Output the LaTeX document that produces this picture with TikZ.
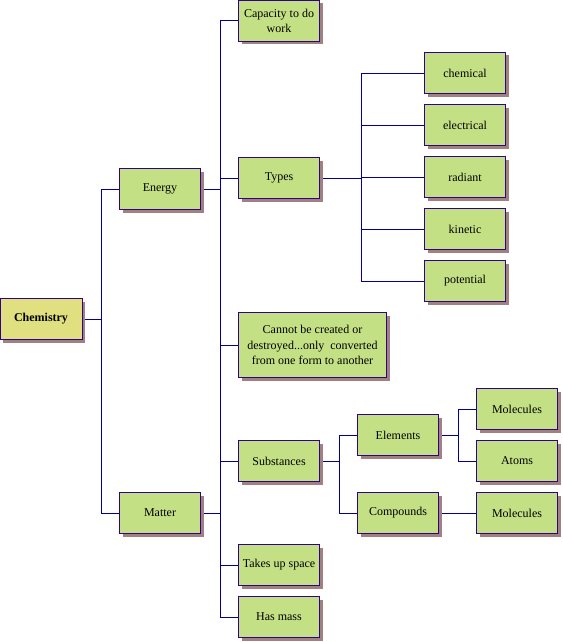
\documentclass[tikz,border=0pt]{standalone}
\usepackage{fontspec}
\setmainfont{Liberation Serif}
\usetikzlibrary{positioning,shadows,backgrounds}
\definecolor{boxgreen}{HTML}{C4E084}
\definecolor{boxyellow}{HTML}{E0E080}
\definecolor{boxedge}{HTML}{330088}
\definecolor{shade}{HTML}{A08080}
\definecolor{wire}{HTML}{000099}
\tikzset{
topic/.style={draw=boxedge, line width=1pt, fill=boxgreen, minimum width=81pt, minimum height=41pt, inner sep=1pt, align=center, font=\fontsize{12}{15.5}\selectfont, general shadow={fill=shade, shadow xshift=3pt, shadow yshift=-3pt}}, % every box
root/.style={topic, fill=boxyellow, minimum width=82pt, font=\fontsize{12}{15.5}\selectfont\bfseries},
link/.style={draw=wire, line width=1pt},
}
\begin{document}
\begin{tikzpicture}[x=1pt, y=-1pt]
        \useasboundingbox (0,0) rectangle (562,642);
        \node[root] at (41,319) (chem) {Chemistry};
        \node[topic] at (160,189) (en) {Energy};
        \node[topic] at (160,513) (ma) {Matter};
        \node[topic] at (279,21) (cap) {Capacity to do\\work};
        \node[topic] at (279,178) (ty) {Types};
        \node[topic, minimum width=148pt, minimum height=65pt] at (312.5,345) (can) {Cannot be created or\\destroyed...only~~converted\\from one form to another};
        \node[topic] at (279,461) (sub) {Substances};
        \node[topic] at (279,565) (tak) {Takes up space};
        \node[topic] at (279,617) (has) {Has mass};
        \node[topic] at (465,73) (t1) {chemical};
        \node[topic] at (465,125) (t2) {electrical};
        \node[topic] at (465,177) (t3) {radiant};
        \node[topic] at (465,229) (t4) {kinetic};
        \node[topic] at (465,281) (t5) {potential};
        \node[topic] at (398,435) (el) {Elements};
        \node[topic] at (398,513) (co) {Compounds};
        \node[topic] at (517,409) (m1) {Molecules};
        \node[topic] at (517,461) (at) {Atoms};
        \node[topic] at (517,513) (m2) {Molecules};
        % fork points
        \coordinate (f1) at (101,0);
        \coordinate (f2) at (220,0);
        \coordinate (f3) at (361,0);
        \coordinate (f4) at (339,0);
        \coordinate (f5) at (458,0);
        \begin{scope}[on background layer]
        \draw[link]
        (chem.east) -- (chem.east -| f1)
        (f1 |- en) -- (f1 |- ma)
        (f1 |- en) -- (en.west)
        (f1 |- ma) -- (ma.west)
        (en.east) -- (en.east -| f2)
        (ma.east) -- (ma.east -| f2)
        (f2 |- cap) -- (f2 |- has)
        (f2 |- cap) -- (cap.west)
        (f2 |- ty) -- (ty.west)
        (f2 |- can) -- (can.west)
        (f2 |- sub) -- (sub.west)
        (f2 |- tak) -- (tak.west)
        (f2 |- has) -- (has.west)
        (ty.east) -- (ty.east -| f3)
        (f3 |- t1) -- (f3 |- t5)
        (f3 |- t1) -- (t1.west)
        (f3 |- t2) -- (t2.west)
        (f3 |- t3) -- (t3.west)
        (f3 |- t4) -- (t4.west)
        (f3 |- t5) -- (t5.west)
        (sub.east) -- (sub.east -| f4)
        (f4 |- el) -- (f4 |- co)
        (f4 |- el) -- (el.west)
        (f4 |- co) -- (co.west)
        (el.east) -- (el.east -| f5)
        (f5 |- m1) -- (f5 |- at)
        (f5 |- m1) -- (m1.west)
        (f5 |- at) -- (at.west)
        (co.east) -- (m2.west)
        ;
        \end{scope}
\end{tikzpicture}
\end{document}
